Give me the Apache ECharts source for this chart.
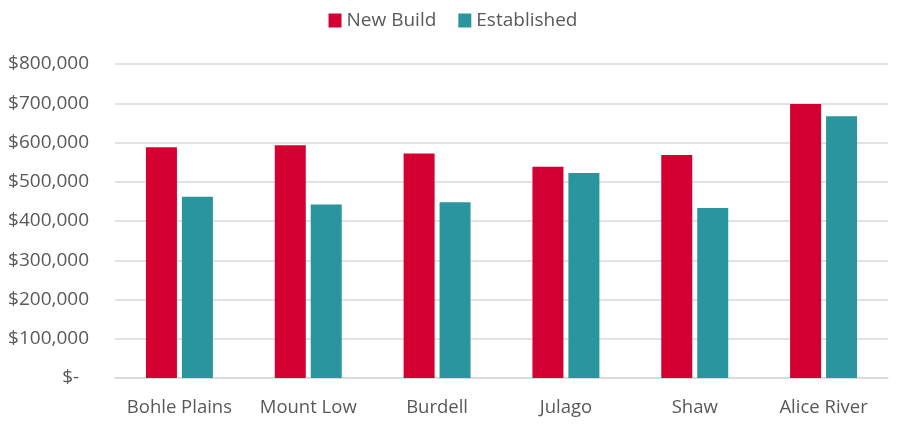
<!DOCTYPE html>
<html><head><meta charset="utf-8">
<script src="https://cdn.jsdelivr.net/npm/echarts@6/dist/echarts.min.js"></script>
<style>html,body{margin:0;padding:0;background:#fff}#c{width:906px;height:424px}</style>
</head><body><div id="c"></div>
<script>
const categories = ['Bohle Plains','Mount Low','Burdell','Julago','Shaw','Alice River'];
const newBuild = [588000, 593000, 572000, 538000, 568000, 698000];
const established = [462000, 442000, 448000, 522000, 433000, 667000];
const seriesNames = ['New Build','Established'];

const chart = echarts.init(document.getElementById('c'));
const txt = '#595959';
const font = '"Open Sans", "Noto Sans", sans-serif';
chart.setOption({
  animation:false,
  textStyle:{fontFamily:font},
  legend:{top:6,left:'center',itemWidth:13,itemHeight:14,itemGap:22,icon:'rect',
    textStyle:{color:txt,fontSize:19,fontFamily:font},data:seriesNames},
  grid:{left:115,right:18,top:64,bottom:46,containLabel:false},
  xAxis:{type:'category',data:categories,
    axisLine:{lineStyle:{color:'#d9d9d9',width:1.5}},axisTick:{show:false},
    axisLabel:{interval:0,hideOverlap:false,color:txt,fontSize:18.5,margin:20,fontFamily:font}},
  yAxis:{type:'value',min:0,max:800000,interval:100000,
    axisLine:{show:false},axisTick:{show:false},
    splitLine:{lineStyle:{color:'#d9d9d9',width:1.5}},
    axisLabel:{color:txt,fontSize:19,margin:26,fontFamily:font,
      formatter:v=> v===0 ? '$-  ' : '$'+v.toLocaleString('en-US')}},
  series:[
    {name:seriesNames[0],type:'bar',data:newBuild,barWidth:31,barGap:'16%',itemStyle:{color:'#D50032'}},
    {name:seriesNames[1],type:'bar',data:established,barWidth:31,itemStyle:{color:'#2A959E'}}
  ]
});
</script></body></html>
